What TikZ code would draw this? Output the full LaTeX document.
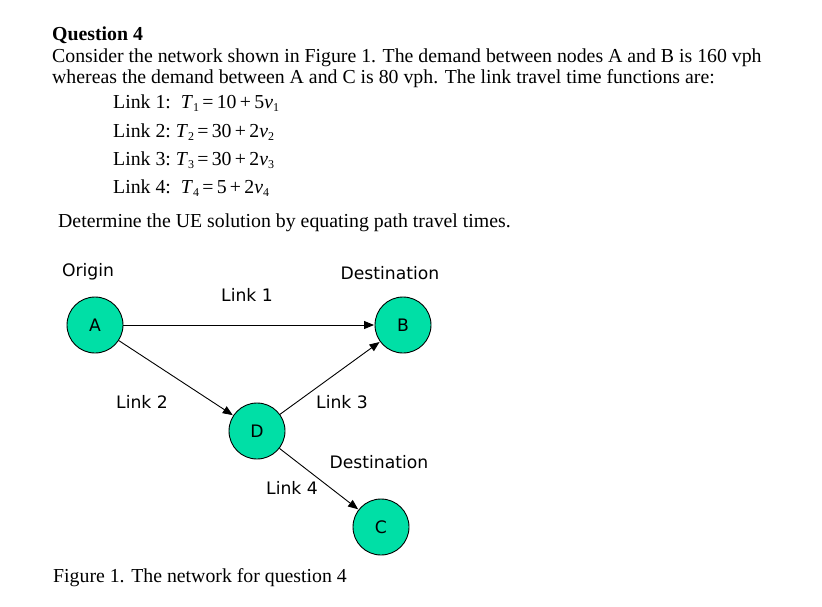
\documentclass[tikz,border=0pt]{standalone}
\usepackage{fontspec}
\setmainfont{Liberation Serif}
\newfontfamily\diagfont{DejaVu Sans}
\usetikzlibrary{arrows.meta}
\definecolor{nodegreen}{RGB}{0,223,166}
\newcommand{\sbs}[1]{\raisebox{-0.35ex}{\fontsize{12}{12}\selectfont #1}}
\begin{document}
\begin{tikzpicture}[x=1pt,y=-1pt,
  txt/.style={anchor=base west,inner sep=0pt,font=\fontsize{19.8}{22}\selectfont},
  lbl/.style={inner sep=0pt,font=\diagfont\fontsize{17.2}{19}\selectfont},
  netnode/.style={circle,draw=black,line width=0.9pt,fill=nodegreen,minimum size=56pt,inner sep=0pt,font=\diagfont\fontsize{17.2}{19}\selectfont},
  link/.style={line width=0.9pt,-{Triangle[length=10pt,width=8pt]},shorten >=0.5pt}]
\useasboundingbox (0,0) rectangle (822,606);
% text
\node[txt,font=\bfseries\fontsize{19.8}{22}\selectfont] (q) at (52,40) {Question 4};
\node[txt] (l1) at (52,62) {Consider the network shown in Figure 1. The demand between nodes A and B is 160 vph};
\node[txt] (l2) at (52,83) {whereas the demand between A and C is 80 vph. The link travel time functions are:};
\node[txt] (f1) at (113,108) {Link 1:\ \ \textit{T}\sbs{1}\,=\,10\,+\,5\textit{v}\sbs{1}};
\node[txt] (f2) at (113,137) {Link 2:\ \textit{T}\sbs{2}\,=\,30\,+\,2\textit{v}\sbs{2}};
\node[txt] (f3) at (113,165) {Link 3:\ \textit{T}\sbs{3}\,=\,30\,+\,2\textit{v}\sbs{3}};
\node[txt] (f4) at (113,193) {Link 4:\ \ \textit{T}\sbs{4}\,=\,5\,+\,2\textit{v}\sbs{4}};
\node[txt] (det) at (58,227) {Determine the UE solution by equating path travel times.};
\node[txt] (cap) at (53,582) {Figure 1. The network for question 4};
% network
\node[netnode] (A) at (95,325) {A};
\node[netnode] (B) at (403,325) {B};
\node[netnode] (D) at (257,431) {D};
\node[netnode] (C) at (381,527) {C};
\draw[link] (A) -- (B);
\draw[link] (A) -- (D);
\draw[link] (D) -- (B);
\draw[link] (D) -- (C);
\node[lbl] (orig) at (88,272) {Origin};
\node[lbl] (destB) at (390,273) {Destination};
\node[lbl] (k1) at (247,295) {Link 1};
\node[lbl] (k2) at (142,402) {Link 2};
\node[lbl] (k3) at (342,402) {Link 3};
\node[lbl] (destC) at (379,462) {Destination};
\node[lbl] (k4) at (292,488) {Link 4};
\end{tikzpicture}
\end{document}
